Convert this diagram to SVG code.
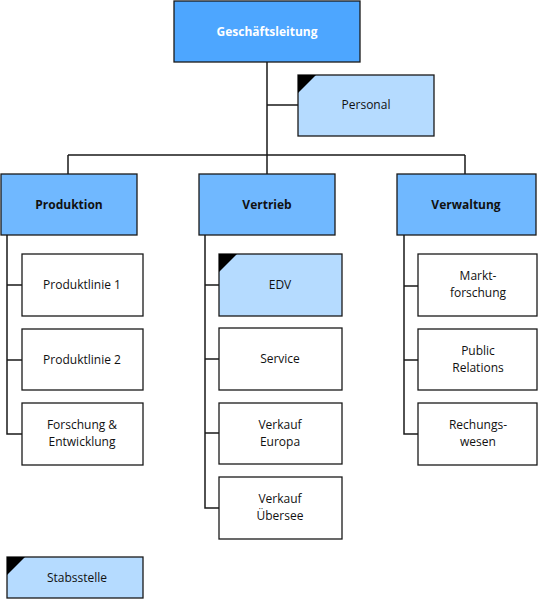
<svg xmlns="http://www.w3.org/2000/svg" width="538" height="608" viewBox="0 0 538 608">
<style>
.box{stroke:#1a1a1a;stroke-width:1.3}
.top{fill:#4da6ff}
.l2{fill:#70b8ff}
.stab{fill:#b5dbff}
.leaf{fill:#ffffff}
.tri{fill:#000}
text{font-family:"Open Sans","Noto Sans","Liberation Sans",sans-serif;font-size:12px;fill:#111;text-anchor:middle}
.b{font-weight:bold}
.w{fill:#fff}
#connectors path{fill:none;stroke:#1a1a1a;stroke-width:1.5}
</style>
<rect x="0" y="0" width="538" height="608" fill="#fff"/>
<g id="connectors">
<path d="M267,62 V155 M267,105 H298 M68,155 H465 M68,155 V174 M267,155 V174 M465,155 V174"/>
<path d="M7,235 V434 H22 M7,285 H22 M7,360 H22"/>
<path d="M205,235 V508 H219 M205,285 H219 M205,359 H219 M205,433 H219"/>
<path d="M404,235 V434 H418 M404,286 H418 M404,360 H418"/>
</g>
<g id="geschaeftsleitung"><rect class="box top" x="174" y="1" width="186" height="61"/><text class="b w" x="267" y="36">Geschäftsleitung</text></g>
<g id="personal"><rect class="box stab" x="298" y="75" width="136" height="61"/><path class="tri" d="M298,75 h18 l-18,18 z"/><text x="366" y="109">Personal</text></g>
<g id="produktion"><rect class="box l2" x="1" y="174" width="136" height="61"/><text class="b" x="69" y="209">Produktion</text></g>
<g id="vertrieb"><rect class="box l2" x="199" y="174" width="136" height="61"/><text class="b" x="267" y="209">Vertrieb</text></g>
<g id="verwaltung"><rect class="box l2" x="397" y="174" width="139" height="61"/><text class="b" x="466" y="209">Verwaltung</text></g>
<g id="produktlinie1"><rect class="box leaf" x="22" y="254" width="121" height="62"/><text x="82" y="289">Produktlinie 1</text></g>
<g id="produktlinie2"><rect class="box leaf" x="22" y="329" width="121" height="61"/><text x="82" y="364">Produktlinie 2</text></g>
<g id="forschung"><rect class="box leaf" x="22" y="403" width="121" height="62"/><text x="82" y="429">Forschung &amp;</text><text x="82" y="446">Entwicklung</text></g>
<g id="edv"><rect class="box stab" x="219" y="254" width="123" height="62"/><path class="tri" d="M219,254 h18 l-18,18 z"/><text x="280" y="289">EDV</text></g>
<g id="service"><rect class="box leaf" x="219" y="328" width="123" height="62"/><text x="280" y="363">Service</text></g>
<g id="verkauf-europa"><rect class="box leaf" x="219" y="403" width="123" height="61"/><text x="280" y="429">Verkauf</text><text x="280" y="446">Europa</text></g>
<g id="verkauf-uebersee"><rect class="box leaf" x="219" y="477" width="123" height="62"/><text x="280" y="503">Verkauf</text><text x="280" y="520">Übersee</text></g>
<g id="marktforschung"><rect class="box leaf" x="418" y="254" width="119" height="62"/><text x="478" y="280">Markt-</text><text x="478" y="297">forschung</text></g>
<g id="public-relations"><rect class="box leaf" x="418" y="329" width="119" height="61"/><text x="478" y="355">Public</text><text x="478" y="372">Relations</text></g>
<g id="rechnungswesen"><rect class="box leaf" x="418" y="403" width="119" height="62"/><text x="478" y="429">Rechungs-</text><text x="478" y="446">wesen</text></g>
<g id="stabsstelle"><rect class="box stab" x="7" y="557" width="136" height="41"/><path class="tri" d="M7,557 h18 l-18,18 z"/><text x="77" y="582">Stabsstelle</text></g>
</svg>
